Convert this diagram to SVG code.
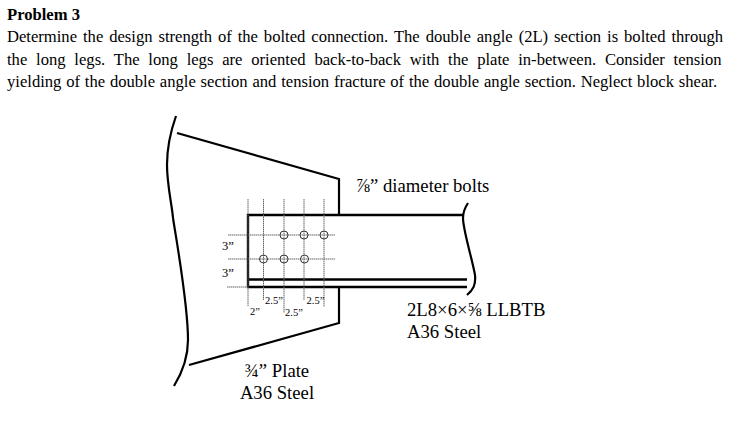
<svg xmlns="http://www.w3.org/2000/svg" width="747" height="428" viewBox="0 0 747 428">
<style>
text{font-family:"Liberation Serif","Times New Roman",serif;fill:#000}
.p{font-size:16.6px}
.l{font-size:18.7px}
.d{font-size:10.5px}
.e{font-size:12.500px}
.o{fill:none;stroke:#000;stroke-width:2.2}
.t{fill:none;stroke:#000;stroke-width:2.4}
.g{fill:none;stroke:#666;stroke-width:1;stroke-dasharray:1.500 .5}
.b{fill:none;stroke:#333;stroke-width:1}
</style>
<rect width="747" height="428" fill="#fff"/>
<g id="problem-text">
<text x="7" y="20" class="p" font-weight="bold">Problem 3</text>
<text x="7" y="42" class="p" style="word-spacing:1.8px">Determine the design strength of the bolted connection. The double angle (2L) section is bolted through</text>
<text x="7" y="65" class="p" style="word-spacing:4.65px">the long legs. The long legs are oriented back-to-back with the plate in-between. Consider tension</text>
<text x="7" y="87" class="p" style="word-spacing:.66px">yielding of the double angle section and tension fracture of the double angle section. Neglect block shear.</text>
</g>
<g id="plate">
<path class="o" d="M176 116C170 133 167 150 167 165C167 185 172 205 173 218"/>
<path class="o" d="M173 218C178 250 188 305 188 340C188 358 182 373 174 386"/>
<path class="o" d="M177 133L339 179V215M339 287V323L189 365"/>
<text x="277" y="377" class="l" text-anchor="middle">¾” Plate</text>
<text x="277" y="399" class="l" text-anchor="middle">A36 Steel</text>
</g>
<g id="double-angle">
<path class="t" d="M463 215H248V287H467M248 279.500H467"/>
<path class="o" d="M468 203C464 209 463 213 463 218C463 230 472 258 475 275C476 285 473 290 467 295"/>
<text x="407" y="316" class="l">2L8×6×⅝ LLBTB</text>
<text x="407" y="338" class="l">A36 Steel</text>
</g>
<g id="bolts">
<path class="g" d="M228 235H335M228 259H335M227 287H248M248 199V306M263.500 199V300M284 199V313M304 199V300M324 199V307"/>
<g class="b">
<circle cx="284" cy="235" r="4"/><circle cx="304" cy="235" r="4"/><circle cx="324" cy="235" r="4"/>
<circle cx="263.500" cy="259" r="4"/><circle cx="284" cy="259" r="4"/><circle cx="304.500" cy="259" r="4"/>
</g>
<text x="356" y="192" class="l">⅞” diameter bolts</text>
</g>
<g id="dimensions">
<text x="222" y="250" class="e">3”</text>
<text x="222" y="277" class="e">3”</text>
<text x="250" y="315" class="d">2”</text>
<text x="265" y="304" class="d">2.5”</text>
<text x="285" y="316" class="d">2.5”</text>
<text x="306.500" y="304" class="d">2.5”</text>
</g>
</svg>
